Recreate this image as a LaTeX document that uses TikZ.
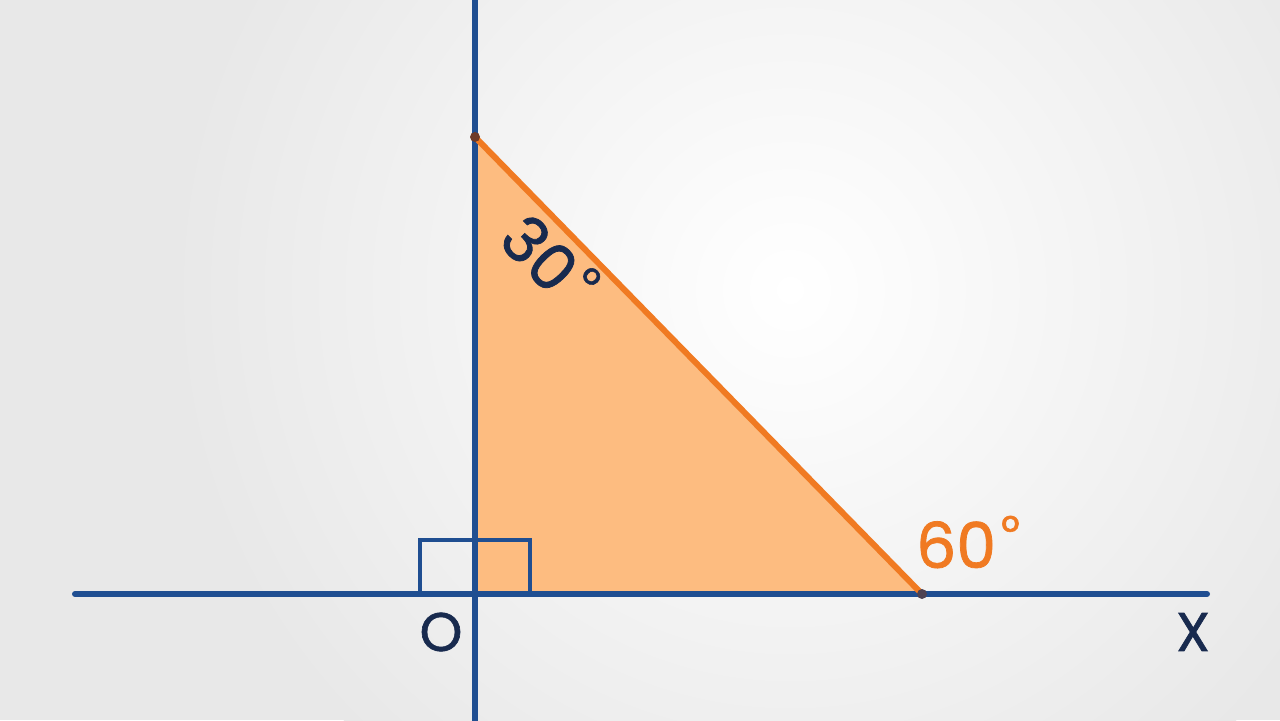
\documentclass[tikz,border=0pt]{standalone}
\usepackage{fontspec}
\setmainfont{Poppins}[FakeBold=1.5]
\newfontfamily\labelfont{Poppins}[FakeBold=1.2]
\usetikzlibrary{positioning}

\definecolor{axisblue}{RGB}{31,78,145}
\definecolor{navy}{RGB}{24,42,78}
\definecolor{triorange}{RGB}{240,122,34}
\definecolor{trifill}{RGB}{253,188,128}
\definecolor{bggray}{RGB}{232,232,232}
\definecolor{dotbrown}{RGB}{110,58,40}

% small raised degree ring
\newcommand{\degmark}{\hspace{0.08em}\raisebox{0.32em}{\fontsize{26}{26}\selectfont °}}

\tikzset{
  axisline/.style={draw=axisblue,line width=3.4pt,line cap=round},
  hypline/.style={draw=triorange,line width=3.4pt,line cap=round},
  anglelabel/.style={inner sep=0pt,font=\labelfont\fontsize{36}{36}\selectfont},
  axislabel/.style={inner sep=0pt,text=navy,font=\labelfont\fontsize{31}{31}\selectfont},
}

\begin{document}
\begin{tikzpicture}[x=0.02cm,y=0.02cm]
\useasboundingbox (0,0) rectangle (1280,720);
% background
\fill[bggray] (0,0) rectangle (1280,720);
\begin{scope}
  \clip (0,0) rectangle (1280,720);
  \shade[inner color=white,outer color=bggray] (790,430) circle (620);
\end{scope}

% triangle corners
\coordinate (O) at (475,126);
\coordinate (A) at (475,583);
\coordinate (B) at (922,126);
\coordinate (xl) at (75,126);
\coordinate (xr) at (1207,126);
\coordinate (yb) at (475,-10);
\coordinate (yt) at (475,730);

\fill[trifill] (O) -- (A) -- (B) -- cycle;

\begin{scope}[every path/.style={axisline}]
    \draw (xl) -- (xr);
    \draw (yb) -- (yt);
    \draw[line width=2.8pt,line cap=butt] (420,126) -- (420,180) -- (530,180) -- (530,126);
\end{scope}

\draw[hypline] (A) -- (B);
\fill[dotbrown] (A) circle (5);
\fill[dotbrown!60!axisblue] (B) circle (5);

\begin{scope}[every node/.style={anglelabel}]
    \node[text=navy,rotate=-45.6] (a30) at (550,460) {30\degmark};
    \node[text=triorange] (a60) at (968,178) {60\degmark};
\end{scope}

\begin{scope}[every node/.style={axislabel}]
    \node (lo) at (441,88) {O};
    \node (lx) at (1193,88) {X};
\end{scope}
\end{tikzpicture}
\end{document}
